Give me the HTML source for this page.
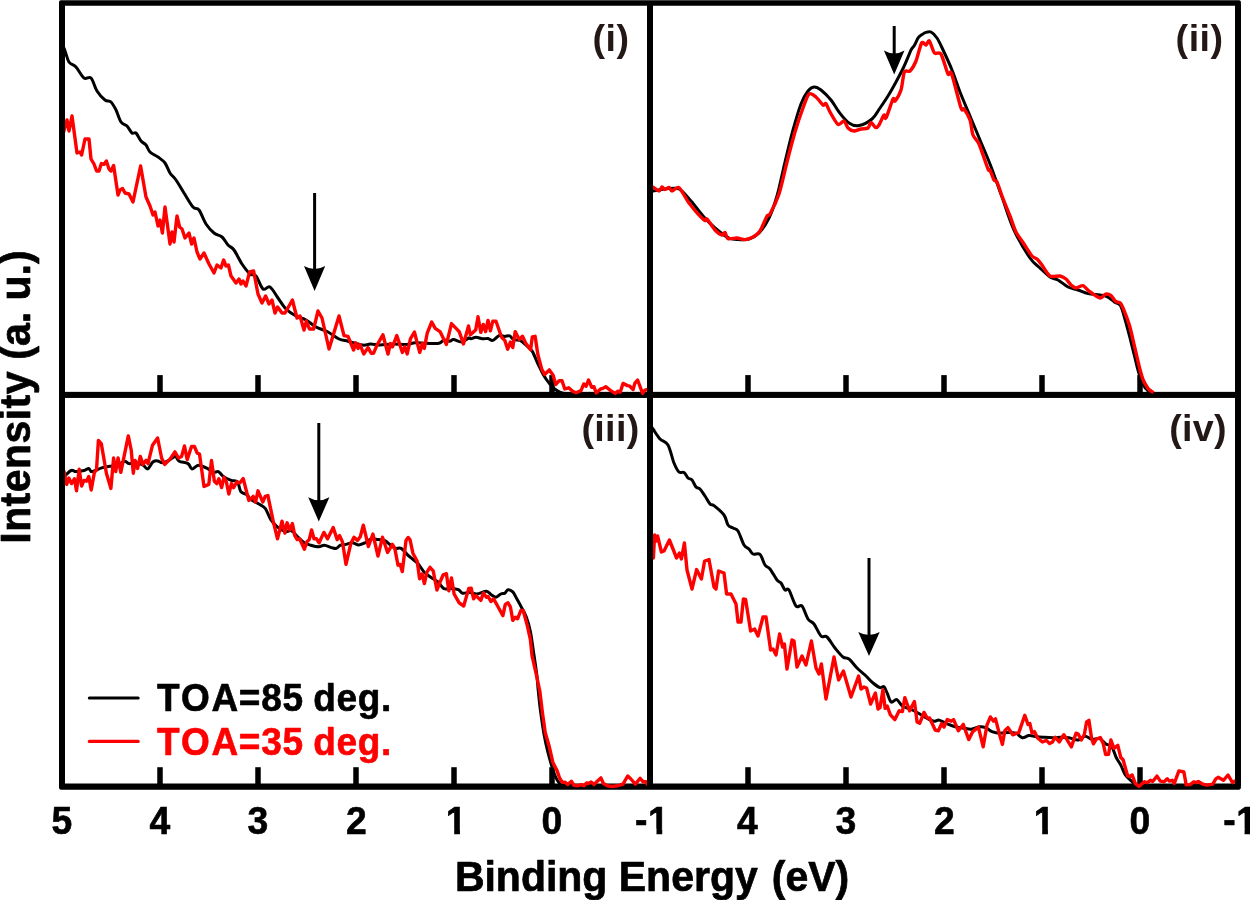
<!DOCTYPE html>
<html lang="en"><head><meta charset="utf-8"><title>Intensity vs Binding Energy</title>
<style>
html,body{margin:0;padding:0;background:#fff;}
body{width:1250px;height:900px;overflow:hidden;}
</style></head><body>
<svg width="1250" height="900" viewBox="0 0 1250 900" style="display:block">
<rect width="1250" height="900" fill="#fff"/>
<path fill="#000" fill-rule="evenodd" d="M60.80,0.30 H1239.10 Q1240.90,0.30 1240.90,2.10 V787.85 Q1240.90,789.65 1239.10,789.65 H60.80 Q59.00,789.65 59.00,787.85 V2.10 Q59.00,0.30 60.80,0.30 Z M65.00,5.85 H1235.10 V783.50 H65.00 Z"/>
<rect x="62" y="391.85" width="1176" height="6.1" fill="#000"/>
<g stroke="#000" stroke-width="5.5">
<line x1="160" y1="375.1" x2="160" y2="393"/>
<line x1="258" y1="375.1" x2="258" y2="393"/>
<line x1="356" y1="375.1" x2="356" y2="393"/>
<line x1="454" y1="375.1" x2="454" y2="393"/>
<line x1="552" y1="375.1" x2="552" y2="393"/>
<line x1="748" y1="375.1" x2="748" y2="393"/>
<line x1="846" y1="375.1" x2="846" y2="393"/>
<line x1="944" y1="375.1" x2="944" y2="393"/>
<line x1="1042" y1="375.1" x2="1042" y2="393"/>
<line x1="1140" y1="375.1" x2="1140" y2="393"/>
<line x1="160" y1="767.2" x2="160" y2="785"/>
<line x1="258" y1="767.2" x2="258" y2="785"/>
<line x1="356" y1="767.2" x2="356" y2="785"/>
<line x1="454" y1="767.2" x2="454" y2="785"/>
<line x1="552" y1="767.2" x2="552" y2="785"/>
<line x1="748" y1="767.2" x2="748" y2="785"/>
<line x1="846" y1="767.2" x2="846" y2="785"/>
<line x1="944" y1="767.2" x2="944" y2="785"/>
<line x1="1042" y1="767.2" x2="1042" y2="785"/>
<line x1="1140" y1="767.2" x2="1140" y2="785"/>
</g>
<g>
<path d="M61.0,44.0 C61.6,44.8 63.1,46.0 64.4,49.0 C65.7,52.0 67.1,59.0 69.0,62.0 C70.9,65.0 73.5,64.3 76.0,67.0 C78.5,69.7 81.5,76.2 84.0,78.0 C86.5,79.8 88.8,75.8 91.0,78.0 C93.2,80.2 94.7,87.3 97.0,91.0 C99.3,94.7 102.7,98.2 105.0,100.0 C107.3,101.8 109.2,100.3 111.0,102.0 C112.8,103.7 114.3,106.7 116.0,110.0 C117.7,113.3 119.2,119.3 121.0,122.0 C122.8,124.7 125.2,124.2 127.0,126.0 C128.8,127.8 130.5,131.8 132.0,133.0 C133.5,134.2 134.5,131.7 136.0,133.0 C137.5,134.3 139.3,139.0 141.0,141.0 C142.7,143.0 144.5,143.2 146.0,145.0 C147.5,146.8 148.0,150.0 150.0,152.0 C152.0,154.0 155.5,155.2 158.0,157.0 C160.5,158.8 163.0,160.3 165.0,163.0 C167.0,165.7 168.2,170.2 170.0,173.0 C171.8,175.8 173.7,176.7 176.0,180.0 C178.3,183.3 181.2,188.5 184.0,193.0 C186.8,197.5 190.5,204.2 193.0,207.0 C195.5,209.8 196.8,207.2 199.0,210.0 C201.2,212.8 203.5,220.2 206.0,224.0 C208.5,227.8 211.3,230.8 214.0,233.0 C216.7,235.2 219.7,235.0 222.0,237.0 C224.3,239.0 226.0,242.8 228.0,245.0 C230.0,247.2 231.7,246.8 234.0,250.0 C236.3,253.2 239.3,260.0 242.0,264.0 C244.7,268.0 247.7,272.0 250.0,274.0 C252.3,276.0 253.8,273.5 256.0,276.0 C258.2,278.5 260.7,287.2 263.0,289.0 C265.3,290.8 267.5,285.5 270.0,287.0 C272.5,288.5 275.3,294.3 278.0,298.0 C280.7,301.7 283.0,306.0 286.0,309.0 C289.0,312.0 292.7,314.2 296.0,316.0 C299.3,317.8 302.7,318.2 306.0,320.0 C309.3,321.8 312.3,325.0 316.0,327.0 C319.7,329.0 324.2,330.0 328.0,332.0 C331.8,334.0 335.7,337.5 339.0,339.0 C342.3,340.5 345.2,340.4 348.0,341.2 C350.8,342.0 353.3,342.9 356.0,343.6 C358.7,344.3 361.6,345.1 364.0,345.2 C366.4,345.3 367.7,344.1 370.4,344.0 C373.1,343.9 376.3,344.9 380.0,344.9 C383.7,344.9 388.3,344.0 392.8,343.9 C397.3,343.8 403.3,344.6 407.0,344.4 C410.7,344.2 411.8,343.0 415.0,342.8 C418.2,342.6 422.4,343.2 426.4,343.3 C430.4,343.4 436.1,343.9 439.0,343.3 C441.9,342.8 442.2,340.4 444.0,340.0 C445.8,339.6 448.0,341.3 449.6,341.2 C451.2,341.1 451.6,339.5 453.6,339.6 C455.6,339.7 459.1,342.3 461.6,342.0 C464.1,341.7 467.2,338.5 468.8,338.0 C470.4,337.5 469.8,338.9 471.0,338.8 C472.2,338.7 474.1,337.2 476.0,337.2 C477.9,337.2 480.4,338.6 482.4,338.8 C484.4,339.0 486.3,338.2 488.0,338.5 C489.7,338.8 491.0,340.9 492.8,340.4 C494.6,339.9 497.0,336.3 499.0,335.6 C501.0,334.9 503.0,336.3 504.8,336.4 C506.6,336.4 508.1,335.4 509.6,335.9 C511.1,336.4 511.9,338.9 513.6,339.6 C515.3,340.3 518.0,339.5 520.0,340.3 C522.0,341.1 523.6,342.9 525.6,344.7 C527.6,346.5 530.2,348.2 532.3,351.4 C534.3,354.6 536.0,359.9 537.9,363.8 C539.8,367.7 541.5,371.6 543.5,375.0 C545.5,378.4 547.8,381.6 549.7,383.9 C551.6,386.2 552.9,387.6 554.7,389.0 C556.5,390.4 558.4,391.5 560.3,392.3 C562.2,393.1 565.0,393.7 566.0,394.0" fill="none" stroke="#000" stroke-width="3.0" stroke-linejoin="round" stroke-linecap="butt"/>
<path d="M650.0,191.5 C650.5,191.4 650.5,191.4 653.0,191.0 C655.5,190.6 660.7,189.3 665.0,189.0 C669.3,188.7 674.7,187.0 679.0,189.0 C683.3,191.0 687.0,196.5 691.0,201.0 C695.0,205.5 699.0,211.5 703.0,216.0 C707.0,220.5 710.7,224.3 715.0,228.0 C719.3,231.7 725.0,236.1 729.0,238.0 C733.0,239.9 735.7,239.4 739.0,239.6 C742.3,239.8 745.7,240.1 749.0,239.0 C752.3,237.9 755.7,236.5 759.0,233.0 C762.3,229.5 766.0,224.2 769.0,218.0 C772.0,211.8 774.3,205.3 777.0,196.0 C779.7,186.7 782.3,173.0 785.0,162.0 C787.7,151.0 790.3,139.7 793.0,130.0 C795.7,120.3 798.5,110.5 801.0,104.0 C803.5,97.5 805.8,93.8 808.0,91.0 C810.2,88.2 811.8,87.2 814.0,87.0 C816.2,86.8 818.2,87.8 821.0,90.0 C823.8,92.2 828.0,96.3 831.0,100.0 C834.0,103.7 836.0,108.2 839.0,112.0 C842.0,115.8 845.7,120.7 849.0,123.0 C852.3,125.3 855.2,126.3 859.0,125.6 C862.8,124.9 868.5,121.9 872.0,119.0 C875.5,116.1 877.3,111.8 880.0,108.0 C882.7,104.2 885.3,100.3 888.0,96.0 C890.7,91.7 893.4,86.8 896.0,82.0 C898.6,77.2 901.5,71.7 903.5,67.5 C905.5,63.3 906.9,59.7 908.2,56.7 C909.5,53.7 910.2,51.5 911.3,49.5 C912.4,47.5 913.4,47.0 914.6,45.0 C915.8,43.0 917.1,39.3 918.3,37.6 C919.5,35.9 920.7,35.5 922.0,34.6 C923.3,33.7 924.5,32.8 926.0,32.4 C927.5,32.0 929.2,31.1 931.0,32.0 C932.8,32.9 934.8,34.7 937.0,38.0 C939.2,41.3 941.5,46.7 944.0,52.0 C946.5,57.3 949.3,63.3 952.0,70.0 C954.7,76.7 957.0,84.3 960.0,92.0 C963.0,99.7 966.7,108.0 970.0,116.0 C973.3,124.0 976.7,132.0 980.0,140.0 C983.3,148.0 986.3,154.5 990.0,164.0 C993.7,173.5 998.0,186.0 1002.0,197.0 C1006.0,208.0 1009.3,219.8 1014.0,230.0 C1018.7,240.2 1025.7,251.7 1030.0,258.0 C1034.3,264.3 1036.7,264.8 1040.0,268.0 C1043.3,271.2 1047.0,275.0 1050.0,277.0 C1053.0,279.0 1055.0,278.3 1058.0,280.0 C1061.0,281.7 1064.7,285.3 1068.0,287.0 C1071.3,288.7 1074.7,288.9 1078.0,290.0 C1081.3,291.1 1084.3,292.8 1088.0,293.6 C1091.7,294.4 1096.8,294.5 1100.0,295.0 C1103.2,295.5 1104.6,295.4 1107.0,296.6 C1109.4,297.8 1112.2,300.5 1114.4,302.0 C1116.6,303.5 1118.6,302.6 1120.4,305.6 C1122.2,308.6 1123.6,314.6 1125.2,320.0 C1126.8,325.4 1128.4,331.8 1130.0,338.0 C1131.6,344.2 1133.4,351.6 1134.8,357.2 C1136.2,362.8 1137.0,367.0 1138.4,371.6 C1139.8,376.2 1141.6,381.6 1143.2,384.8 C1144.8,388.0 1146.6,389.5 1148.0,390.8 C1149.4,392.1 1151.0,392.3 1151.6,392.6" fill="none" stroke="#000" stroke-width="3.0" stroke-linejoin="round" stroke-linecap="butt"/>
<path d="M61.0,477.0 C61.6,476.8 63.1,476.7 64.8,475.6 C66.5,474.5 69.3,471.2 71.2,470.5 C73.1,469.8 73.9,471.6 76.0,471.6 C78.1,471.6 81.9,471.0 84.0,470.5 C86.1,470.0 87.5,468.2 88.8,468.4 C90.1,468.6 89.9,471.7 92.0,471.6 C94.1,471.5 98.7,468.8 101.6,467.9 C104.5,467.0 106.9,466.8 109.6,466.3 C112.3,465.9 115.1,466.1 117.6,465.2 C120.1,464.3 122.9,461.5 124.8,461.2 C126.7,460.9 126.8,463.3 128.8,463.6 C130.8,463.9 134.4,462.5 136.8,462.8 C139.2,463.1 141.4,464.2 143.2,465.2 C145.0,466.2 146.1,469.4 147.7,468.9 C149.3,468.4 151.2,463.3 152.8,462.0 C154.5,460.7 156.0,460.8 157.6,460.9 C159.2,461.0 160.5,462.9 162.4,462.8 C164.3,462.7 166.7,461.5 168.8,460.4 C170.9,459.3 173.5,456.3 175.2,456.4 C176.9,456.5 177.1,460.0 179.2,461.2 C181.3,462.4 185.9,462.3 188.0,463.6 C190.1,464.9 190.3,468.6 192.0,468.9 C193.7,469.2 195.9,465.3 198.4,465.2 C200.9,465.1 204.7,467.2 207.2,468.4 C209.7,469.6 211.7,471.9 213.6,472.4 C215.5,472.9 216.8,470.9 218.4,471.6 C220.0,472.3 221.1,474.9 223.2,476.4 C225.3,477.9 228.8,479.5 231.2,480.4 C233.6,481.3 236.0,480.1 237.6,482.0 C239.2,483.9 239.2,489.5 240.8,491.6 C242.4,493.7 245.7,493.6 247.2,494.8 C248.7,496.0 248.2,497.3 250.0,498.8 C251.8,500.3 255.5,502.0 258.0,503.6 C260.5,505.2 263.1,505.7 265.2,508.4 C267.3,511.1 268.8,516.5 270.8,519.6 C272.8,522.7 274.8,524.8 277.2,526.8 C279.6,528.8 282.8,530.9 285.2,531.6 C287.6,532.3 289.5,529.9 291.6,530.8 C293.7,531.7 295.9,535.2 298.0,537.2 C300.1,539.2 302.3,541.5 304.4,542.8 C306.5,544.1 308.4,544.5 310.8,545.2 C313.2,545.9 316.5,546.8 318.8,546.8 C321.1,546.8 322.3,545.1 324.4,545.2 C326.5,545.3 329.6,547.1 331.6,547.6 C333.6,548.1 334.9,548.8 336.4,548.4 C337.9,548.0 338.8,545.9 340.4,545.2 C342.0,544.5 344.0,544.8 346.0,544.4 C348.0,544.0 350.3,542.7 352.4,542.8 C354.5,542.9 356.7,544.9 358.8,544.9 C360.9,544.9 363.1,543.8 365.2,542.8 C367.3,541.8 369.5,539.3 371.6,538.8 C373.7,538.3 375.9,539.3 378.0,539.6 C380.1,539.9 382.3,539.5 384.4,540.4 C386.5,541.3 388.9,543.9 390.8,545.2 C392.7,546.5 393.9,547.9 395.6,548.4 C397.3,548.9 399.2,547.3 401.2,548.4 C403.2,549.5 405.6,552.9 407.6,554.8 C409.6,556.7 411.5,558.1 413.2,559.6 C414.9,561.1 416.1,561.5 418.0,563.6 C419.9,565.7 422.3,570.1 424.4,572.4 C426.5,574.7 428.5,575.6 430.8,577.2 C433.1,578.8 435.8,580.1 438.0,582.0 C440.2,583.9 441.8,587.6 444.0,588.7 C446.2,589.8 448.8,588.2 451.2,588.4 C453.6,588.6 456.5,588.9 458.4,589.7 C460.3,590.5 460.5,592.8 462.4,593.2 C464.3,593.7 467.2,592.3 469.6,592.4 C472.0,592.5 474.0,594.2 476.8,594.0 C479.6,593.8 484.0,591.2 486.4,591.3 C488.8,591.4 489.6,593.8 491.2,594.8 C492.8,595.8 494.4,597.3 496.0,597.2 C497.6,597.1 499.3,594.7 500.8,594.0 C502.3,593.3 503.6,593.9 504.8,593.2 C506.0,592.5 506.7,589.9 508.0,589.7 C509.3,589.5 511.3,590.4 512.8,591.9 C514.3,593.4 515.3,596.2 516.8,598.8 C518.3,601.4 520.0,604.5 521.6,607.6 C523.2,610.7 524.9,613.2 526.4,617.2 C527.9,621.2 529.2,625.7 530.4,631.6 C531.6,637.5 532.5,645.2 533.6,652.4 C534.7,659.6 536.0,668.4 536.8,674.8 C537.6,681.2 537.6,684.7 538.3,691.0 C538.9,697.3 539.7,705.1 540.7,712.4 C541.7,719.7 542.9,728.1 544.1,734.8 C545.3,741.5 546.6,747.1 548.0,752.7 C549.4,758.3 551.2,764.3 552.5,768.4 C553.8,772.5 554.7,775.0 555.8,777.4 C556.9,779.8 558.0,781.6 559.2,783.0 C560.4,784.4 562.4,785.5 563.0,786.0" fill="none" stroke="#000" stroke-width="3.0" stroke-linejoin="round" stroke-linecap="butt"/>
<path d="M650.0,425.0 C650.5,425.7 651.3,426.7 653.0,429.0 C654.7,431.3 657.5,436.3 660.0,439.0 C662.5,441.7 665.7,441.0 668.0,445.0 C670.3,449.0 672.2,458.5 674.0,463.0 C675.8,467.5 677.3,470.4 679.0,472.0 C680.7,473.6 682.5,471.4 684.0,472.4 C685.5,473.4 686.7,476.7 688.0,478.0 C689.3,479.3 690.7,478.5 692.0,480.0 C693.3,481.5 694.7,485.5 696.0,487.0 C697.3,488.5 698.5,487.5 700.0,489.0 C701.5,490.5 703.3,493.5 705.0,496.0 C706.7,498.5 708.5,502.4 710.0,504.0 C711.5,505.6 711.7,503.8 714.0,505.6 C716.3,507.4 721.7,511.8 724.0,515.0 C726.3,518.2 726.5,522.8 728.0,525.0 C729.5,527.2 731.3,527.0 733.0,528.0 C734.7,529.0 736.2,528.2 738.0,531.0 C739.8,533.8 742.2,542.0 744.0,545.0 C745.8,548.0 747.5,547.5 749.0,549.0 C750.5,550.5 751.2,553.1 753.0,554.0 C754.8,554.9 758.0,552.6 760.0,554.4 C762.0,556.2 763.3,562.6 765.0,565.0 C766.7,567.4 768.0,566.5 770.0,569.0 C772.0,571.5 775.2,577.7 777.0,580.0 C778.8,582.3 779.7,581.3 781.0,583.0 C782.3,584.7 783.7,588.8 785.0,590.0 C786.3,591.2 787.2,587.3 789.0,590.0 C790.8,592.7 793.8,603.3 796.0,606.0 C798.2,608.7 800.0,603.8 802.0,606.0 C804.0,608.2 806.0,616.0 808.0,619.0 C810.0,622.0 811.8,621.2 814.0,624.0 C816.2,626.8 818.8,633.8 821.0,636.0 C823.2,638.2 824.7,635.0 827.0,637.0 C829.3,639.0 832.3,644.7 835.0,648.0 C837.7,651.3 840.7,655.2 843.0,657.0 C845.3,658.8 846.7,657.2 849.0,659.0 C851.3,660.8 854.3,665.3 857.0,668.0 C859.7,670.7 862.3,672.5 865.0,675.0 C867.7,677.5 870.5,680.9 873.0,683.0 C875.5,685.1 878.2,687.0 880.0,687.6 C881.8,688.2 882.8,685.9 884.0,686.8 C885.2,687.7 886.0,690.7 887.2,693.2 C888.4,695.7 889.6,700.9 891.2,702.0 C892.8,703.1 894.9,698.9 896.8,699.6 C898.7,700.3 900.1,704.4 902.4,706.0 C904.7,707.6 907.7,708.0 910.4,709.2 C913.1,710.4 915.7,711.7 918.4,713.2 C921.1,714.7 923.7,716.7 926.4,718.0 C929.1,719.3 932.3,720.9 934.4,721.2 C936.5,721.6 937.1,719.7 939.2,720.1 C941.3,720.5 944.5,722.8 947.2,723.9 C949.9,725.0 952.5,726.1 955.2,726.8 C957.9,727.5 960.5,727.7 963.2,728.1 C965.9,728.5 968.5,729.4 971.2,729.2 C973.9,729.0 976.8,727.1 979.2,726.8 C981.6,726.5 983.5,726.8 985.6,727.6 C987.7,728.4 989.6,730.7 992.0,731.6 C994.4,732.5 997.3,733.1 1000.0,733.2 C1002.7,733.3 1005.3,732.4 1008.0,732.4 C1010.7,732.4 1013.6,732.3 1016.0,733.2 C1018.4,734.1 1020.3,737.3 1022.4,737.7 C1024.5,738.1 1026.7,735.8 1028.8,735.6 C1030.9,735.4 1032.8,736.1 1035.2,736.4 C1037.6,736.7 1040.3,737.0 1043.2,737.2 C1046.1,737.4 1049.9,737.7 1052.8,737.7 C1055.7,737.7 1058.1,737.2 1060.8,737.2 C1063.5,737.2 1066.2,737.3 1069.1,737.8 C1072.0,738.3 1075.5,740.3 1078.2,740.0 C1080.9,739.7 1082.8,736.3 1085.1,736.2 C1087.4,736.1 1089.5,738.9 1091.9,739.3 C1094.3,739.7 1097.2,737.8 1099.5,738.5 C1101.8,739.2 1103.6,742.4 1105.6,743.8 C1107.6,745.2 1109.9,744.6 1111.7,746.9 C1113.5,749.2 1114.7,754.5 1116.2,757.5 C1117.7,760.5 1119.3,762.2 1120.8,765.1 C1122.3,768.0 1123.8,772.5 1125.4,775.0 C1127.1,777.5 1129.1,778.8 1130.7,780.3 C1132.3,781.8 1133.7,783.1 1135.2,784.1 C1136.8,785.1 1139.2,785.7 1140.0,786.0" fill="none" stroke="#000" stroke-width="3.0" stroke-linejoin="round" stroke-linecap="butt"/>
<polyline points="61.0,134.0 63.6,132.0 67.0,120.0 69.0,131.0 72.0,116.0 77.0,153.0 80.0,152.0 81.6,155.0 85.0,139.0 89.0,139.0 91.0,159.0 94.0,164.0 96.6,171.0 99.0,171.0 101.4,163.6 104.0,164.4 106.4,161.0 109.0,169.0 111.0,171.0 113.6,165.6 118.0,195.0 120.0,190.0 122.6,188.6 125.0,193.0 129.0,194.0 133.0,202.0 140.6,166.0 146.0,197.0 150.0,206.0 153.0,215.0 155.0,212.0 158.0,226.0 160.0,220.0 162.4,233.0 165.0,207.0 170.0,244.0 172.0,232.0 174.0,242.0 177.0,216.0 179.6,227.0 182.0,229.0 185.0,238.0 189.0,233.0 191.6,244.0 194.0,238.0 197.0,252.0 200.0,259.0 204.0,253.0 209.0,264.0 214.0,273.0 217.0,265.0 221.0,268.0 223.6,260.0 226.0,266.0 228.4,265.0 231.0,276.0 236.0,283.0 239.0,279.0 241.0,284.0 243.0,281.0 246.0,286.0 249.6,272.0 253.6,271.0 258.0,294.0 262.0,303.0 265.6,296.0 269.0,304.0 272.0,300.0 275.0,313.0 277.6,307.0 282.0,313.0 285.0,313.0 292.4,300.0 297.0,318.0 300.0,316.0 304.0,330.0 306.4,321.0 309.4,329.0 313.6,329.0 318.0,311.0 322.0,318.0 329.0,349.0 339.0,316.0 344.0,335.6 348.0,336.4 353.6,350.0 355.7,342.8 358.0,348.4 360.0,344.4 363.7,354.0 368.0,347.6 371.2,353.2 373.6,353.2 377.0,345.2 382.9,334.8 388.0,354.0 390.4,343.6 392.5,346.8 396.8,335.6 402.4,352.4 404.8,346.8 407.2,354.0 410.4,338.8 414.4,332.0 419.7,352.4 422.4,343.6 424.3,348.4 427.2,333.2 431.7,322.0 435.2,328.4 440.0,331.6 446.4,344.4 451.5,323.6 459.2,331.6 463.5,343.9 468.5,326.0 470.4,334.8 475.7,330.0 478.0,316.7 480.8,332.4 483.2,324.4 485.6,331.6 488.0,320.4 490.4,330.8 492.8,321.2 496.0,321.2 501.6,337.2 504.8,340.4 507.7,349.2 510.4,342.0 512.8,347.6 515.2,331.6 519.2,339.6 522.5,336.3 525.6,343.0 530.6,349.8 532.3,336.9 535.1,336.3 537.9,354.8 541.8,369.4 544.6,374.4 549.3,369.9 553.0,375.0 555.8,384.5 559.2,380.6 562.0,380.8 564.8,389.0 568.7,387.8 572.6,391.2 576.0,392.7 581.0,390.6 583.8,383.9 586.1,386.2 588.5,380.0 591.7,387.3 593.9,386.7 596.2,392.9 600.6,389.0 602.9,388.4 605.7,386.7 610.7,390.6 615.2,393.4 618.0,391.2 620.2,392.3 623.0,383.4 627.5,385.6 629.8,386.2 633.1,389.5 634.8,383.4 637.6,380.0 642.6,393.4 644.9,390.1 648.0,389.5" fill="none" stroke="#ff0000" stroke-width="3.4" stroke-linejoin="round" stroke-linecap="butt"/>
<path d="M650.0,188.0 C650.4,187.9 651.8,186.6 653.0,187.0 C654.2,187.4 657.8,191.0 659.0,191.0 C660.2,191.0 661.2,187.2 662.0,187.0 C662.8,186.8 664.1,189.5 665.0,189.6 C665.9,189.7 668.1,187.2 669.0,187.4 C669.9,187.6 670.7,191.0 672.0,191.0 C673.3,191.0 676.7,186.0 679.0,187.6 C681.3,189.2 685.7,198.7 689.0,203.0 C692.3,207.3 701.6,217.9 704.0,220.0 C706.4,222.1 705.5,217.7 707.0,219.0 C708.5,220.3 713.0,227.9 715.0,230.0 C717.0,232.1 720.7,234.7 722.0,235.0 C723.3,235.3 724.2,231.9 725.0,232.4 C725.8,232.9 726.4,237.9 728.0,238.6 C729.6,239.3 734.7,237.9 737.0,238.0 C739.3,238.1 742.9,239.7 745.0,239.6 C747.1,239.5 751.0,238.1 753.0,237.0 C755.0,235.9 758.1,233.8 760.0,231.0 C761.9,228.2 765.7,218.3 767.0,216.0 C768.3,213.7 768.4,216.9 770.0,214.0 C771.6,211.1 776.7,200.9 779.0,194.0 C781.3,187.1 784.9,170.3 787.0,162.0 C789.1,153.7 792.9,139.2 795.0,132.0 C797.1,124.8 801.1,113.1 803.0,108.0 C804.9,102.9 807.3,95.5 809.0,94.0 C810.7,92.5 814.1,95.5 816.0,97.0 C817.9,98.5 821.7,104.1 823.0,105.0 C824.3,105.9 825.1,102.7 826.0,103.6 C826.9,104.5 828.4,109.2 830.0,112.0 C831.6,114.8 836.1,123.2 838.0,124.4 C839.9,125.6 842.7,120.5 844.0,121.0 C845.3,121.5 846.7,126.7 848.0,128.0 C849.3,129.3 852.3,130.9 854.0,131.0 C855.7,131.1 859.1,129.4 861.0,129.0 C862.9,128.6 866.7,128.9 868.0,128.0 C869.3,127.1 870.0,122.5 871.0,122.4 C872.0,122.3 874.5,127.3 875.6,127.6 C876.7,127.9 877.9,126.7 879.0,125.0 C880.1,123.3 883.1,115.9 884.0,115.0 C884.9,114.1 884.8,120.1 886.0,118.0 C887.2,115.9 891.8,101.3 893.0,99.0 C894.2,96.7 893.9,102.2 895.0,101.0 C896.1,99.8 899.7,93.9 901.0,90.0 C902.3,86.1 903.2,74.5 904.4,72.0 C905.6,69.5 908.5,72.5 910.0,71.0 C911.5,69.5 914.5,64.7 916.0,61.0 C917.5,57.3 920.3,45.1 921.6,43.0 C922.9,40.9 925.0,45.3 926.0,45.0 C927.0,44.7 928.3,39.9 929.4,41.0 C930.5,42.1 932.9,51.3 934.4,53.0 C935.9,54.7 939.2,51.2 941.0,54.0 C942.8,56.8 946.6,71.4 948.0,74.0 C949.4,76.6 949.9,69.1 951.6,73.6 C953.3,78.1 959.3,103.3 961.0,108.0 C962.7,112.7 962.8,107.4 964.0,109.0 C965.2,110.6 968.8,116.5 970.0,120.0 C971.2,123.5 971.8,131.8 973.0,135.0 C974.2,138.2 977.0,139.5 979.0,144.0 C981.0,148.5 986.5,165.5 988.0,169.0 C989.5,172.5 989.2,168.5 990.0,170.0 C990.8,171.5 993.1,178.4 994.0,180.0 C994.9,181.6 995.9,179.9 997.0,182.0 C998.1,184.1 1000.3,191.5 1002.0,196.0 C1003.7,200.5 1008.1,211.2 1010.0,216.0 C1011.9,220.8 1014.1,228.3 1016.0,232.0 C1017.9,235.7 1021.9,240.8 1024.0,244.0 C1026.1,247.2 1030.3,254.0 1032.0,256.0 C1033.7,258.0 1035.7,257.8 1037.0,259.0 C1038.3,260.2 1040.3,262.7 1042.0,265.0 C1043.7,267.3 1047.6,274.5 1050.0,276.0 C1052.4,277.5 1057.9,275.6 1060.0,276.0 C1062.1,276.4 1064.5,277.8 1066.0,279.0 C1067.5,280.2 1069.7,283.8 1071.0,285.0 C1072.3,286.2 1074.4,287.9 1076.0,288.0 C1077.6,288.1 1081.3,285.2 1083.0,285.6 C1084.7,286.0 1086.7,289.3 1089.0,291.0 C1091.3,292.7 1097.8,297.6 1100.0,298.0 C1102.2,298.4 1104.0,294.5 1105.4,294.2 C1106.8,293.9 1109.4,294.4 1110.8,295.4 C1112.2,296.4 1114.3,300.4 1115.6,301.4 C1116.9,302.4 1119.3,302.0 1120.4,303.2 C1121.5,304.4 1122.7,307.2 1124.0,310.4 C1125.3,313.6 1128.6,322.2 1130.0,327.2 C1131.4,332.2 1133.5,342.2 1134.8,347.6 C1136.1,353.0 1138.5,363.7 1139.6,368.0 C1140.7,372.3 1142.1,377.3 1143.2,380.0 C1144.3,382.7 1147.0,386.9 1148.0,388.4 C1149.0,389.9 1150.3,390.4 1151.0,391.0 C1151.7,391.6 1153.2,392.4 1153.5,392.6" fill="none" stroke="#ff0000" stroke-width="3.4" stroke-linejoin="round" stroke-linecap="butt"/>
<polyline points="61.0,474.0 64.0,471.6 66.7,484.4 68.8,478.0 71.5,483.6 74.4,478.8 76.5,490.8 79.2,469.2 81.6,486.0 84.0,480.4 86.4,481.2 88.8,476.4 91.2,490.0 94.4,472.4 96.5,470.0 98.4,440.4 101.3,443.6 106.4,473.2 110.9,488.4 113.6,458.0 115.7,471.6 118.1,458.0 120.8,472.4 128.3,435.9 131.2,450.0 133.3,473.2 135.2,460.4 137.6,468.4 140.3,456.4 142.9,464.4 146.1,460.4 148.0,463.6 152.5,445.2 157.6,438.0 161.6,458.0 164.8,464.4 169.6,459.6 174.9,451.9 178.4,458.0 181.6,456.4 184.5,446.0 187.2,459.6 191.5,446.5 194.4,446.5 197.3,453.2 199.5,454.0 204.0,486.5 208.8,484.4 211.5,460.4 214.4,481.2 216.8,483.6 218.9,478.8 221.6,487.6 224.0,477.2 226.4,482.0 228.8,494.0 231.5,483.6 233.6,487.6 236.8,482.0 240.0,482.8 243.2,478.5 248.8,500.4 250.0,499.6 253.2,496.4 255.6,502.0 258.0,490.8 262.8,502.0 265.2,496.4 267.9,495.6 273.2,521.2 277.5,538.8 282.0,521.2 284.9,533.2 287.1,522.8 289.7,530.0 292.4,523.6 294.8,535.6 297.2,539.6 299.6,538.8 304.4,549.2 306.8,542.0 309.2,539.6 311.6,530.0 314.0,538.8 316.4,538.8 319.1,542.8 323.9,532.4 327.6,538.8 333.2,527.6 337.2,539.6 339.6,535.6 342.5,542.0 346.0,564.4 350.8,543.6 354.0,537.2 357.5,540.4 360.4,536.4 363.3,525.2 368.4,546.5 372.9,534.0 378.0,556.1 382.5,537.2 387.6,552.4 392.4,544.4 394.8,548.4 398.0,565.2 400.1,564.4 402.3,571.6 406.0,540.4 408.1,537.5 410.0,539.6 412.9,553.2 417.2,561.2 419.6,578.8 422.0,574.0 424.4,583.6 426.8,572.4 430.0,567.3 433.2,570.8 436.9,590.0 440.4,581.2 443.2,574.8 446.4,573.7 448.8,590.8 451.5,578.0 454.1,594.0 459.2,602.8 463.7,606.0 468.8,588.4 471.2,588.1 473.6,598.8 476.0,595.6 480.8,600.4 483.5,592.9 486.4,597.2 488.0,596.4 490.9,601.5 493.6,598.8 497.6,606.0 502.9,615.6 505.3,604.4 508.0,602.8 510.4,606.8 512.8,620.4 515.5,617.2 517.6,618.8 520.8,610.5 523.2,610.5 527.2,625.2 530.4,639.6 532.0,655.6 536.0,673.2 539.8,691.0 542.4,712.4 545.2,732.6 549.1,746.0 553.0,762.8 557.0,770.6 559.8,778.5 562.6,782.4 564.8,782.1 567.6,784.6 571.5,781.3 573.8,785.2 578.2,785.8 581.0,784.6 583.8,785.8 586.6,783.0 588.3,783.5 591.1,782.1 593.9,784.6 597.3,781.3 600.9,777.9 603.4,783.5 607.4,785.8 611.8,786.5 617.4,785.8 623.0,784.1 627.7,776.0 630.9,779.0 635.4,784.1 640.1,778.3 643.2,781.8 646.0,781.8 648.0,785.2" fill="none" stroke="#ff0000" stroke-width="3.4" stroke-linejoin="round" stroke-linecap="butt"/>
<polyline points="650.0,552.0 653.4,558.0 654.6,535.0 656.6,541.0 657.6,536.0 661.4,552.0 664.0,551.0 669.4,540.0 676.6,558.0 679.4,553.0 681.4,559.0 684.4,543.0 687.0,570.0 692.0,589.0 696.6,569.6 701.4,579.0 704.6,561.0 709.0,559.6 714.0,587.0 716.0,589.0 718.6,571.0 724.0,573.0 726.6,594.0 731.0,594.0 736.0,604.0 738.0,622.0 741.0,622.0 743.4,599.0 745.6,599.4 750.6,631.0 754.6,629.0 758.0,636.0 763.0,617.0 766.0,617.0 770.6,650.0 773.0,649.0 776.0,655.0 779.6,634.0 782.6,647.0 784.4,644.0 787.0,669.0 792.0,640.0 794.0,641.0 797.0,667.0 802.0,656.0 806.0,665.0 811.4,641.0 816.0,668.0 819.0,674.0 821.4,664.0 826.0,699.0 834.0,657.0 838.6,680.0 843.4,671.0 851.0,697.0 858.6,676.0 861.0,689.0 864.0,687.0 866.6,688.0 870.6,704.0 875.4,693.0 878.0,709.0 880.0,707.6 882.9,690.0 885.1,708.4 887.2,706.0 890.4,714.8 894.9,719.6 899.2,710.8 902.4,711.6 904.8,697.7 909.6,710.8 914.4,701.5 917.1,722.0 919.7,723.3 924.0,712.4 927.2,718.0 929.6,718.0 935.2,730.0 938.4,730.8 941.6,723.6 944.0,727.1 947.2,719.6 951.2,721.2 953.6,719.6 958.4,730.8 963.2,724.4 968.8,739.6 972.8,731.6 978.4,727.1 983.2,746.8 986.9,725.2 990.4,716.9 993.6,721.2 995.5,718.8 999.2,733.2 1002.4,744.4 1004.8,730.8 1008.0,727.6 1012.8,734.8 1018.9,732.4 1024.8,715.3 1028.0,724.4 1029.9,723.6 1032.0,733.2 1034.4,731.6 1037.6,738.0 1042.4,742.0 1046.4,740.4 1049.6,743.6 1052.5,742.0 1055.2,737.2 1059.2,742.0 1063.8,734.7 1066.8,739.3 1071.4,746.9 1076.0,733.2 1078.2,734.0 1081.3,740.0 1084.3,734.7 1086.6,721.8 1088.9,720.3 1091.6,738.5 1093.4,743.8 1096.2,739.3 1100.3,737.5 1103.3,743.8 1105.6,754.5 1108.6,754.2 1110.9,740.0 1114.0,748.4 1117.8,745.4 1120.8,757.5 1123.1,759.8 1127.6,775.8 1129.9,776.5 1132.2,775.0 1135.2,783.4 1139.0,786.4 1144.4,781.8 1147.4,782.6 1150.4,780.3 1152.7,781.5 1157.0,776.1 1160.3,781.1 1164.1,781.8 1167.2,778.8 1169.4,781.1 1172.2,780.3 1174.3,783.4 1178.9,770.9 1183.9,772.0 1186.2,784.9 1190.0,784.6 1193.8,781.8 1196.0,782.6 1198.3,781.5 1202.1,783.8 1206.7,785.2 1212.8,784.1 1215.8,778.8 1218.1,777.3 1223.4,780.3 1228.0,775.0 1232.5,782.6 1234.8,781.1 1237.0,783.0" fill="none" stroke="#ff0000" stroke-width="3.4" stroke-linejoin="round" stroke-linecap="butt"/>
</g>
<rect x="59" y="4" width="6" height="782" fill="#000"/>
<rect x="647" y="4" width="6" height="782" fill="#000"/>
<rect x="1235.1" y="4" width="5.8" height="782" fill="#000"/>
<line x1="314.6" y1="193.0" x2="314.6" y2="270.1" stroke="#000" stroke-width="3"/><path d="M304.0,266.1 Q314.6,272.1 325.2,266.1 L314.6,291.0 Z" fill="#000"/>
<line x1="894.2" y1="26.0" x2="894.2" y2="54.5" stroke="#000" stroke-width="3"/><path d="M883.9,50.5 Q894.2,56.5 904.5,50.5 L894.2,74.5 Z" fill="#000"/>
<line x1="318.8" y1="423.0" x2="318.8" y2="501.2" stroke="#000" stroke-width="3"/><path d="M308.2,497.2 Q318.8,503.2 329.4,497.2 L318.8,521.5 Z" fill="#000"/>
<line x1="869.0" y1="558.0" x2="869.0" y2="636.0" stroke="#000" stroke-width="3"/><path d="M858.3,632.0 Q869.0,638.0 879.7,632.0 L869.0,656.0 Z" fill="#000"/>
<line x1="89.3" y1="698" x2="138.2" y2="698" stroke="#000" stroke-width="3" stroke-linecap="round"/>
<line x1="89.3" y1="741.4" x2="138.2" y2="741.4" stroke="#ff0000" stroke-width="3.1" stroke-linecap="round"/>
<g font-family="Liberation Sans, Arial, Helvetica, sans-serif" font-weight="bold" style="font-kerning:none" font-size="37" stroke-width="0.6" stroke-linejoin="round">
<text x="157.1" y="711.3" transform="matrix(1 0 0 1.04 0 -28.452)" fill="#000" stroke="#000" letter-spacing="0.7">T<tspan dx="0.6">O</tspan><tspan dx="1.0">A=85</tspan><tspan dx="-1.5"> deg.</tspan></text>
<text x="157.1" y="755" transform="matrix(1 0 0 1.04 0 -30.200)" fill="#ff0000" stroke="#ff0000" letter-spacing="0.7">T<tspan dx="0.6">O</tspan><tspan dx="1.0">A=35</tspan><tspan dx="-1.5"> deg.</tspan></text>
<text x="62" y="833.7" transform="matrix(1 0 0 1.04 0 -33.348)" text-anchor="middle" fill="#000" stroke="#000" font-size="37.3">5</text>
<text x="160" y="833.7" transform="matrix(1 0 0 1.04 0 -33.348)" text-anchor="middle" fill="#000" stroke="#000" font-size="37.3">4</text>
<text x="258" y="833.7" transform="matrix(1 0 0 1.04 0 -33.348)" text-anchor="middle" fill="#000" stroke="#000" font-size="37.3">3</text>
<text x="356.5" y="833.7" transform="matrix(1 0 0 1.04 0 -33.348)" text-anchor="middle" fill="#000" stroke="#000" font-size="37.3">2</text>
<text x="552" y="833.7" transform="matrix(1 0 0 1.04 0 -33.348)" text-anchor="middle" fill="#000" stroke="#000" font-size="37.3">0</text>
<text x="747.5" y="833.7" transform="matrix(1 0 0 1.04 0 -33.348)" text-anchor="middle" fill="#000" stroke="#000" font-size="37.3">4</text>
<text x="846" y="833.7" transform="matrix(1 0 0 1.04 0 -33.348)" text-anchor="middle" fill="#000" stroke="#000" font-size="37.3">3</text>
<text x="944.5" y="833.7" transform="matrix(1 0 0 1.04 0 -33.348)" text-anchor="middle" fill="#000" stroke="#000" font-size="37.3">2</text>
<text x="1140" y="833.7" transform="matrix(1 0 0 1.04 0 -33.348)" text-anchor="middle" fill="#000" stroke="#000" font-size="37.3">0</text>
<clipPath id="c1"><rect x="442.80" y="790" width="29.00" height="38.74"/><rect x="454.21" y="790" width="5.72" height="60"/></clipPath>
<g clip-path="url(#c1)"><text x="445.8" y="833.7" transform="matrix(1 0 0 1.04 0 -33.348)" fill="#000" stroke="#000" font-size="37.3">1</text></g>
<clipPath id="c2"><rect x="1030.80" y="790" width="29.00" height="38.74"/><rect x="1042.21" y="790" width="5.72" height="60"/></clipPath>
<g clip-path="url(#c2)"><text x="1033.8" y="833.7" transform="matrix(1 0 0 1.04 0 -33.348)" fill="#000" stroke="#000" font-size="37.3">1</text></g>
<clipPath id="c3"><rect x="631.90" y="790" width="42.20" height="38.74"/><rect x="656.51" y="790" width="5.72" height="60"/></clipPath>
<g clip-path="url(#c3)"><text transform="matrix(1 0 0 1.04 0 -33.348)" fill="#000" stroke="#000" font-size="37.3"><tspan x="634.9" y="832.95">-</tspan><tspan x="648.1" y="833.7">1</tspan></text></g>
<clipPath id="c4"><rect x="1220.30" y="790" width="41.90" height="38.74"/><rect x="1244.61" y="790" width="5.72" height="60"/></clipPath>
<g clip-path="url(#c4)"><text transform="matrix(1 0 0 1.04 0 -33.348)" fill="#000" stroke="#000" font-size="37.3"><tspan x="1223.3" y="832.95">-</tspan><tspan x="1236.2" y="833.7">1</tspan></text></g>
</g>
<g font-family="Liberation Sans, Arial, Helvetica, sans-serif" font-weight="bold" style="font-kerning:none" font-size="41" stroke="#000" stroke-width="0.7" stroke-linejoin="round">
<text x="454.9" y="891.2" transform="matrix(1 0 0 1.025 0 -22.280)" fill="#000">Binding Energy <tspan dx="2.6">(eV)</tspan></text>
<text transform="translate(29.9,543.7) rotate(-90) scale(1,1.025)" fill="#000"><tspan letter-spacing="0.45">Intensity</tspan> (a. u.)</text>
</g>
<g font-family="Liberation Sans, Arial, Helvetica, sans-serif" font-weight="bold" style="font-kerning:none" font-size="37.7" fill="#231815" letter-spacing="0.5">
<text x="592.5" y="51.4">(i)</text>
<text x="1175.6" y="51.3">(ii)</text>
<text x="581.5" y="441.4" letter-spacing="0.3">(iii)</text>
<text x="1169.3" y="441.4" letter-spacing="0.2">(iv)</text>
</g>
</svg>
</body></html>
